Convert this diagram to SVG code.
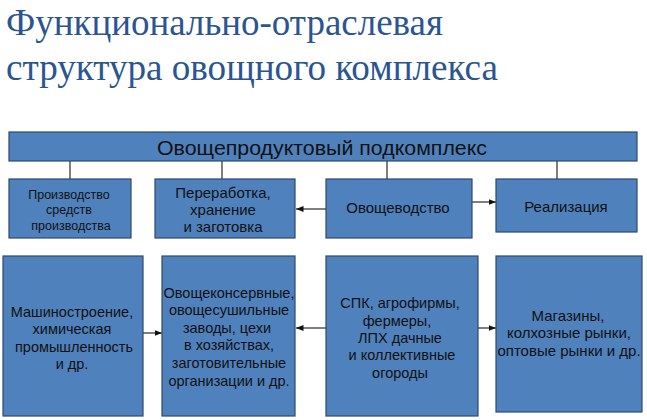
<svg xmlns="http://www.w3.org/2000/svg" width="647" height="420" viewBox="0 0 647 420">
<defs>
<style>
.title{font-family:"Liberation Serif","DejaVu Serif",serif;font-size:38px;fill:#2A5592;}
.box{fill:#4F81BD;stroke:#2E4A6B;stroke-width:1.2;}
.t{font-family:"Liberation Sans","DejaVu Sans",sans-serif;fill:#111;text-anchor:middle;}
.c{stroke:#555;stroke-width:1.5;fill:none;}
.a{stroke:#555;stroke-width:1.5;fill:none;marker-end:url(#ah);}
</style>
<marker id="ah" viewBox="0 0 10 10" refX="10" refY="5" markerWidth="5" markerHeight="5" orient="auto" markerUnits="strokeWidth">
<path d="M0,1 L10,5 L0,9 z" fill="#111"/>
</marker>
</defs>
<rect width="647" height="420" fill="#fff"/>
<text class="title" x="6" y="35" textLength="437" lengthAdjust="spacingAndGlyphs">Функционально-отраслевая</text>
<text class="title" x="6" y="80" textLength="492" lengthAdjust="spacingAndGlyphs">структура овощного комплекса</text>

<g id="connectors">
<line class="c" x1="70" y1="161" x2="70" y2="179"/>
<line class="c" x1="222" y1="161" x2="222" y2="179"/>
<line class="c" x1="387" y1="161" x2="387" y2="179"/>
<line class="c" x1="557" y1="161" x2="557" y2="179"/>
<line class="a" x1="326" y1="209" x2="296" y2="209"/>
<line class="a" x1="472" y1="202" x2="496" y2="202"/>
<line class="a" x1="143" y1="333" x2="162" y2="333"/>
<line class="a" x1="326" y1="328" x2="296" y2="328"/>
<line class="a" x1="478" y1="328" x2="496" y2="328"/>
</g>

<g id="top">
<rect class="box" x="9" y="132" width="628" height="29"/>
<text class="t" x="322" y="155" font-size="20" textLength="330" lengthAdjust="spacingAndGlyphs">Овощепродуктовый подкомплекс</text>
</g>

<g id="n1">
<rect class="box" x="9" y="179" width="122" height="59"/>
<text class="t" font-size="12.5"><tspan x="69" y="199">Производство</tspan><tspan x="69" y="214">средств</tspan><tspan x="71" y="230">производства</tspan></text>
</g>
<g id="n2">
<rect class="box" x="155" y="179" width="140" height="59"/>
<text class="t" font-size="15"><tspan x="223" y="198">Переработка,</tspan><tspan x="223" y="215">хранение</tspan><tspan x="223" y="232">и заготовка</tspan></text>
</g>
<g id="n3">
<rect class="box" x="326" y="179" width="146" height="59"/>
<text class="t" font-size="15" x="398" y="213">Овощеводство</text>
</g>
<g id="n4">
<rect class="box" x="496" y="179" width="141" height="53"/>
<text class="t" font-size="15" x="566" y="212">Реализация</text>
</g>

<g id="n5">
<rect class="box" x="3" y="256" width="140" height="160"/>
<text class="t" font-size="14.5"><tspan x="72" y="317">Машиностроение,</tspan><tspan x="72" y="334">химическая</tspan><tspan x="74" y="352">промышленность</tspan><tspan x="72" y="369">и др.</tspan></text>
</g>
<g id="n6">
<rect class="box" x="162" y="256" width="133" height="160"/>
<text class="t" font-size="14.5"><tspan x="229" y="298">Овощеконсервные,</tspan><tspan x="229" y="315">овощесушильные</tspan><tspan x="227" y="333">заводы, цехи</tspan><tspan x="229" y="350">в хозяйствах,</tspan><tspan x="229" y="368">заготовительные</tspan><tspan x="229" y="386">организации и др.</tspan></text>
</g>
<g id="n7">
<rect class="box" x="326" y="256" width="152" height="160"/>
<text class="t" font-size="14.5"><tspan x="400" y="308">СПК, агрофирмы,</tspan><tspan x="397" y="326">фермеры,</tspan><tspan x="400" y="343">ЛПХ дачные</tspan><tspan x="402" y="360">и коллективные</tspan><tspan x="400" y="378">огороды</tspan></text>
</g>
<g id="n8">
<rect class="box" x="496" y="256" width="146" height="156"/>
<text class="t" font-size="15"><tspan x="568" y="321">Магазины,</tspan><tspan x="569" y="338">колхозные рынки,</tspan><tspan x="569" y="356">оптовые рынки и др.</tspan></text>
</g>
</svg>
